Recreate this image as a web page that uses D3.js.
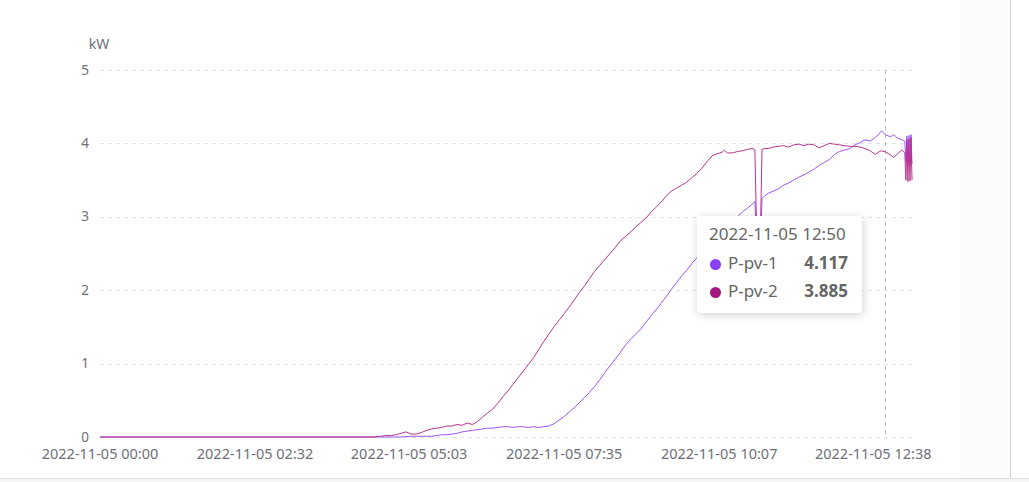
<!DOCTYPE html>
<html>
<head>
<meta charset="utf-8">
<script src="https://cdn.jsdelivr.net/npm/d3@7"></script>
<style>
  html, body { margin: 0; padding: 0; background: #fff; }
  #wrap { position: relative; width: 1029px; height: 482px; overflow: hidden; }
  svg { position: absolute; left: 0; top: 0; }
  .tip {
    position: absolute; background: #fff; border-radius: 4px;
    box-shadow: 1px 2px 10px rgba(0,0,0,0.18);
    font-family: "Noto Sans", "DejaVu Sans", sans-serif; color: #666;
  }
</style>
</head>
<body>
<div id="wrap"><svg id="chart" width="1029" height="482"></svg></div>
<script>
// time of each reading, minutes after 2022-11-05 00:00
const minutes = [
  0, 270, 275, 280, 285, 290, 295, 300, 305, 310,
  315, 320, 325, 330, 335, 340, 345, 350, 355, 360,
  365, 370, 375, 380, 385, 390, 395, 400, 405, 410,
  415, 420, 425, 430, 435, 440, 445, 450, 455, 460,
  465, 470, 475, 480, 485, 490, 495, 500, 505, 510,
  515, 520, 525, 530, 535, 540, 545, 550, 555, 560,
  565, 570, 575, 580, 585, 590, 595, 600, 605, 610,
  612, 615, 620, 625, 630, 635, 640, 642, 644, 647,
  649, 652, 655, 660, 665, 670, 675, 680, 685, 690,
  695, 700, 705, 710, 715, 720, 725, 730, 735, 740,
  745, 750, 755, 760, 763, 766, 770, 775, 778, 782,
  786, 789, 790, 791, 792, 793, 794, 795, 796
];
const pv1 = [
  0, 0, 0, 0, 0, 0, 0, 0.005, 0.01, 0.01,
  0.01, 0.01, 0.01, 0.02, 0.03, 0.03, 0.04, 0.05, 0.07, 0.08,
  0.09, 0.10, 0.11, 0.12, 0.12, 0.13, 0.14, 0.14, 0.13, 0.14,
  0.14, 0.13, 0.14, 0.13, 0.14, 0.15, 0.18, 0.23, 0.28, 0.34,
  0.40, 0.47, 0.54, 0.61, 0.69, 0.78, 0.88, 0.97, 1.06, 1.15,
  1.25, 1.33, 1.40, 1.47, 1.56, 1.65, 1.73, 1.82, 1.91, 2.01,
  2.10, 2.19, 2.27, 2.36, 2.44, 2.51, 2.58, 2.65, 2.72, 2.79,
  2.83, 2.86, 2.93, 3.00, 3.07, 3.12, 3.18, 3.21, 2.55, 2.45,
  3.25, 3.29, 3.32, 3.35, 3.38, 3.43, 3.46, 3.50, 3.54, 3.57,
  3.61, 3.65, 3.70, 3.74, 3.78, 3.85, 3.89, 3.91, 3.93, 3.98,
  4.01, 4.05, 4.03, 4.08, 4.12, 4.17, 4.117, 4.09, 4.12, 4.07,
  4.05, 4.03, 3.75, 4.10, 3.72, 4.11, 3.70, 4.12, 3.72
];
const pv2 = [
  0, 0, 0.01, 0.02, 0.02, 0.03, 0.05, 0.07, 0.04, 0.04,
  0.06, 0.09, 0.11, 0.12, 0.13, 0.15, 0.15, 0.17, 0.16, 0.19,
  0.17, 0.21, 0.27, 0.33, 0.38, 0.46, 0.55, 0.63, 0.72, 0.81,
  0.90, 0.99, 1.08, 1.19, 1.30, 1.40, 1.50, 1.59, 1.68, 1.77,
  1.87, 1.97, 2.06, 2.16, 2.26, 2.34, 2.42, 2.50, 2.58, 2.67,
  2.73, 2.79, 2.86, 2.92, 2.98, 3.06, 3.13, 3.20, 3.28, 3.35,
  3.39, 3.43, 3.47, 3.53, 3.59, 3.66, 3.75, 3.83, 3.86, 3.88,
  3.91, 3.87, 3.87, 3.89, 3.90, 3.92, 3.93, 3.91, 2.60, 2.50,
  3.92, 3.93, 3.93, 3.95, 3.96, 3.97, 3.95, 3.98, 3.99, 3.97,
  3.99, 3.98, 3.94, 3.97, 4.00, 3.99, 3.98, 3.97, 3.96, 3.96,
  3.95, 3.93, 3.90, 3.85, 3.88, 3.90, 3.885, 3.84, 3.81, 3.86,
  3.91, 3.87, 3.50, 4.05, 3.48, 4.06, 3.49, 4.08, 3.50
];
const seriesNames = ["P-pv-1", "P-pv-2"];
const seriesColors = ["#8a3ffc", "#a3197f"];
const lineColors = ["#9b55ff", "#b8338f"];
const yTicks = [0, 1, 2, 3, 4, 5];
const xTickLabels = ["2022-11-05 00:00", "2022-11-05 02:32", "2022-11-05 05:03",
  "2022-11-05 07:35", "2022-11-05 10:07", "2022-11-05 12:38"];
const hoverIndex = minutes.indexOf(770);
const hoverLabel = "2022-11-05 12:50";

const font = '"Noto Sans", "DejaVu Sans", sans-serif';
const svg = d3.select("#chart");

const x = d3.scaleLinear().domain([0, 796]).range([100, 912]);
const y = d3.scaleLinear().domain([0, 5]).range([437, 70]);

function toMin(label) {
  const t = label.split(" ")[1].split(":");
  return +t[0] * 60 + +t[1];
}

// page frame
svg.append("rect").attr("x", 960).attr("y", 0).attr("width", 50).attr("height", 478).attr("fill", "#fcfcfc");
svg.append("line").attr("x1", 1010.5).attr("x2", 1010.5).attr("y1", 0).attr("y2", 478).attr("stroke", "#d4d4d4");
svg.append("rect").attr("x", 0).attr("y", 478).attr("width", 1029).attr("height", 4).attr("fill", "#f5f5f5");
svg.append("line").attr("x1", 0).attr("x2", 1029).attr("y1", 478.5).attr("y2", 478.5).attr("stroke", "#dedede");

// grid
svg.append("g").selectAll("line").data(yTicks).join("line")
  .attr("x1", x.range()[0]).attr("x2", x.range()[1])
  .attr("y1", d => Math.round(y(d)) + 0.5).attr("y2", d => Math.round(y(d)) + 0.5)
  .attr("stroke", "#dfe4f2").attr("stroke-dasharray", "4,4");

svg.append("g").selectAll("text").data(yTicks).join("text")
  .attr("x", 89).attr("y", d => y(d) + 4.5)
  .attr("text-anchor", "end").attr("font-family", font).attr("font-size", 13.5)
  .attr("fill", "#6e7079").text(d => d);

svg.append("text").attr("x", 99).attr("y", 49).attr("text-anchor", "middle")
  .attr("font-family", font).attr("font-size", 14).attr("fill", "#6e7079").text("kW");

svg.append("g").selectAll("text").data(xTickLabels).join("text")
  .attr("x", d => x(toMin(d))).attr("y", 459)
  .attr("text-anchor", "middle").attr("font-family", font).attr("font-size", 14.5)
  .attr("fill", "#6e7079").text(d => d);

// crosshair
svg.append("line")
  .attr("x1", Math.round(x(minutes[hoverIndex])) + 0.5).attr("x2", Math.round(x(minutes[hoverIndex])) + 0.5)
  .attr("y1", y(5)).attr("y2", y(0))
  .attr("stroke", "#b4bccc").attr("stroke-dasharray", "4,4");

// lines
const line = d3.line().x((d, i) => x(minutes[i])).y(d => y(d));
[pv1, pv2].forEach((vals, k) => {
  svg.append("path").datum(vals).attr("d", line)
    .attr("fill", "none").attr("stroke", lineColors[k]).attr("stroke-width", 1)
    .attr("stroke-linejoin", "round");
});

// tooltip
const tip = d3.select("#wrap").append("div").attr("class", "tip")
  .style("left", "697px").style("top", "216px").style("width", "165px").style("height", "97px");
tip.append("div").text(hoverLabel)
  .style("position", "absolute").style("left", "12px").style("top", "6px")
  .style("font-size", "17px").style("white-space", "nowrap");
[pv1, pv2].forEach((vals, k) => {
  const row = tip.append("div").style("position", "absolute").style("left", "13px")
    .style("top", (35 + k * 28) + "px").style("width", "138px").style("height", "24px")
    .style("font-size", "17px").style("line-height", "24px").style("white-space", "nowrap");
  row.append("span").style("display", "inline-block").style("width", "11px").style("height", "11px")
    .style("border-radius", "50%").style("background", seriesColors[k])
    .style("margin-right", "7px").style("vertical-align", "-1px");
  row.append("span").text(seriesNames[k]);
  row.append("span").text(vals[hoverIndex].toFixed(3))
    .style("position", "absolute").style("right", "0").style("font-weight", "bold").style("color", "#666");
});
</script>
</body>
</html>
